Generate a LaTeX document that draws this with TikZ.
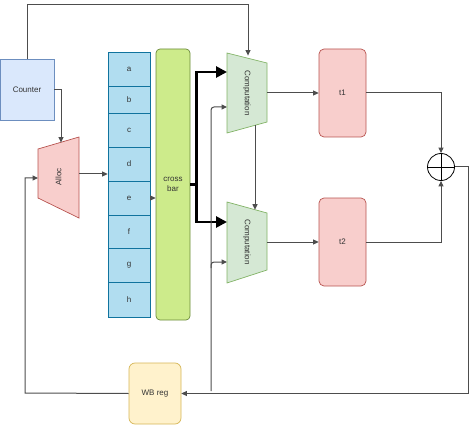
\documentclass[tikz,border=0pt]{standalone}
\usepackage{fontspec}
\setmainfont{Liberation Sans}
\usetikzlibrary{arrows.meta}
\definecolor{wirec}{HTML}{4D4D4D}
\definecolor{txtc}{HTML}{333333}
\definecolor{bluefill}{HTML}{DAE8FC}\definecolor{bluedraw}{HTML}{6C8EBF}
\definecolor{redfill}{HTML}{F8CECC}\definecolor{reddraw}{HTML}{B85450}
\definecolor{regfill}{HTML}{B1DDF0}\definecolor{regdraw}{HTML}{10739E}
\definecolor{xfill}{HTML}{CDEB8B}\definecolor{xdraw}{HTML}{6B8A3A}
\definecolor{gfill}{HTML}{D5E8D4}\definecolor{gdraw}{HTML}{82B366}
\definecolor{yfill}{HTML}{FFF2CC}\definecolor{ydraw}{HTML}{D6B656}
\begin{document}
\begin{tikzpicture}[x=1pt,y=-1pt,font=\fontsize{8}{9.5}\selectfont,
  every node/.style={text=txtc},
  wire/.style={draw=wirec,line width=1pt},
  arr/.style={wire,-{Triangle[length=5.5pt,width=5pt]}},
  fat/.style={draw=black,line width=2.8pt,-{Triangle[length=11pt,width=11pt]}},
  counterbox/.style={draw=bluedraw,fill=bluefill,line width=0.7pt},
  cellbox/.style={draw=regdraw,fill=regfill,line width=0.7pt,minimum width=42pt,inner sep=0pt},
  xbox/.style={draw=xdraw,fill=xfill,line width=0.7pt,rounded corners=4pt,align=center},
  tbox/.style={draw=reddraw,fill=redfill,line width=0.7pt,rounded corners=5pt,minimum width=47pt,minimum height=88pt},
  wbbox/.style={draw=ydraw,fill=yfill,line width=0.7pt,rounded corners=6pt,minimum width=52pt,minimum height=61pt},
  redtrap/.style={draw=reddraw,fill=redfill,line width=0.7pt},
  greentrap/.style={draw=gdraw,fill=gfill,line width=0.7pt},
]
\useasboundingbox (0,0) rectangle (474,425);

% Counter
\node[counterbox,minimum width=54pt,minimum height=61pt] (counter) at (27,89.5) {Counter};

% Alloc trapezoid
\draw[redtrap] (38,149) -- (79,137) -- (79,218) -- (38,198) -- cycle;
\node[rotate=90] (alloc) at (58.5,177) {Alloc};
\coordinate (alloctop) at (61,142.6);
\coordinate (allocout) at (79,174);
\coordinate (allocin) at (38,178);

% Register cells
\foreach \n/\t/\b in {a/52/86,b/86/113,c/113/147,d/147/181,e/181/215,f/215/248,g/248/282,h/282/317}{
  \node[cellbox,minimum height={(\b-\t)*1pt}] (\n) at (129,{(\t+\b)/2}) {\n};
}

% Crossbar
\node[xbox,minimum width=34pt,minimum height=271pt] (xbar) at (173,184.5) {cross\\bar};

% Computation trapezoids
\draw[greentrap] (227,53) -- (267,63) -- (267,122) -- (227,133) -- cycle;
\node[rotate=-90] (comp1) at (247,93) {Computation};
\draw[greentrap] (227,202) -- (267,213) -- (267,270) -- (227,283) -- cycle;
\node[rotate=-90] (comp2) at (247,242) {Computation};
\coordinate (c1top) at (248,55.6);
\coordinate (c1in) at (227,72);
\coordinate (c1l) at (227,107);
\coordinate (c1out) at (267,93);
\coordinate (c1b) at (255,125.3);
\coordinate (c2t) at (255,209.7);
\coordinate (c2in) at (227,222);
\coordinate (c2l) at (227,262);
\coordinate (c2out) at (267,242);

% t1, t2
\node[tbox] (t1) at (342.5,93) {t1};
\node[tbox] (t2) at (342.5,242) {t2};

% adder
\node[draw=black,line width=0.8pt,circle,minimum size=27pt,inner sep=0pt] (add) at (441,167) {};
\draw[draw=black,line width=0.8pt] (add.north) -- (add.south) (add.west) -- (add.east);

% WB reg
\node[wbbox] (wb) at (155,393.5) {WB reg};

% helper coordinates
\coordinate (topc) at (248,5);
\coordinate (rc) at (468,167);
\coordinate (lc) at (25,393);
\coordinate (fb) at (211,391);
\coordinate (fbj) at (211,268);

% connectors
\draw[arr] (counter.north) |- (topc) -- (c1top);
\draw[arr] (counter.east) -| (alloctop);
\draw[arr] (allocout) -- (allocout -| d.west);
\draw[arr] (e.east) -- (e.east -| xbar.west);
\draw[fat] (xbar.east) -- ++(6,0) |- (c1in);
\draw[fat] (xbar.east) -- ++(6,0) |- (c2in);
\draw[arr,rounded corners=3pt] (fb) |- (c1l);
\draw[arr,rounded corners=3pt] (fbj) |- (c2l);
\draw[arr] (c1out) -- (t1.west);
\draw[arr] (c2out) -- (t2.west);
\draw[arr] (c1b) -- (c2t);
\draw[arr] (t1.east) -| (add.north);
\draw[arr] (t2.east) -| (add.south);
\draw[arr] (add.east) -- (rc) |- (wb.east);
\draw[arr] (wb.west) -- (lc) |- (allocin);
\end{tikzpicture}
\end{document}
